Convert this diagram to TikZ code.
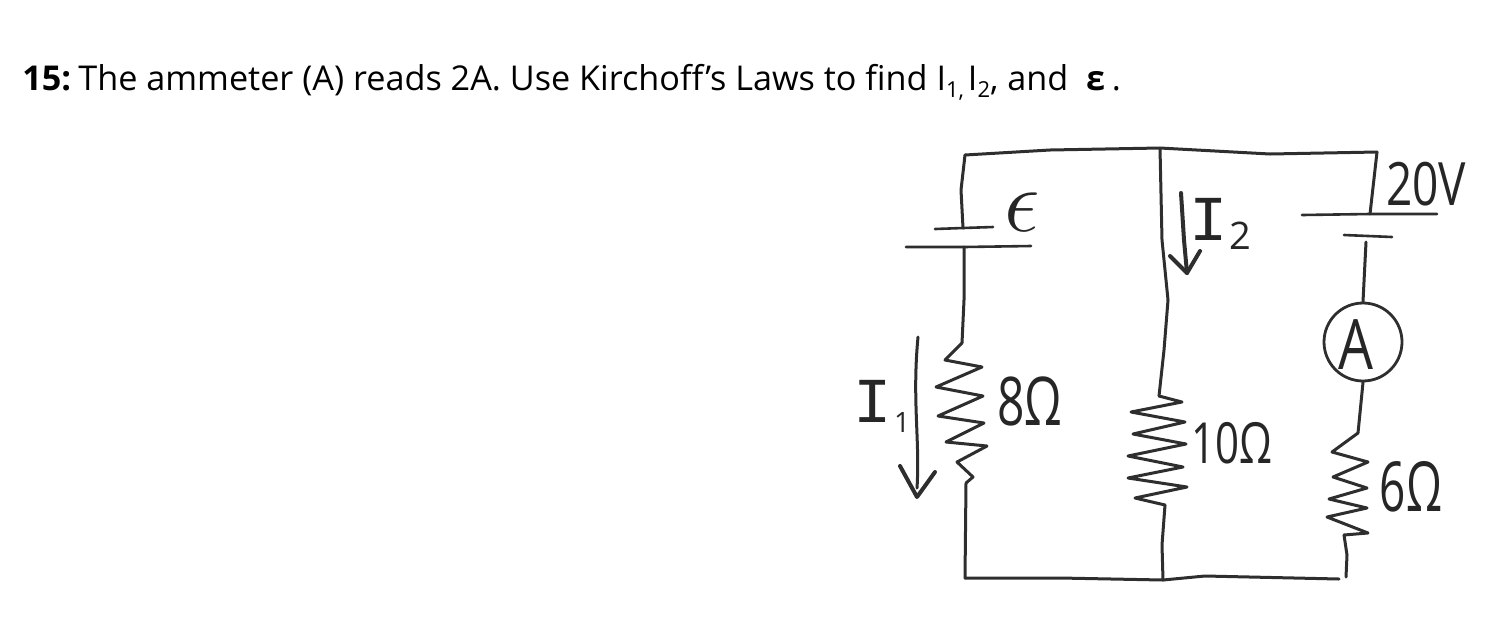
\documentclass[tikz,border=0pt]{standalone}
\usepackage{graphicx}
\usepackage{fontspec}
\setmainfont{Open Sans}
\newfontfamily\handfont{Liberation Mono}
\begin{document}
\begin{tikzpicture}[x=0.5pt,y=-0.5pt,
  wire/.style={draw=black!82,line width=1.5pt,line join=round,line cap=round},
  thinwire/.style={wire,line width=1.3pt},
  heavywire/.style={wire,line width=2pt},
  hand/.style={inner sep=0pt,outer sep=0pt,text=black!85,anchor=center},
  meter/.style={circle,draw=black!82,line width=1.4pt,minimum size=39pt,inner sep=0pt}]
\useasboundingbox (0,0) rectangle (1499,628);
% junctions and ends
\coordinate (tl) at (965,155);
\coordinate (tm) at (1160,148);
\coordinate (tr) at (1377,152);
\coordinate (bl) at (965,578);
\coordinate (bm) at (1163,580);
\coordinate (br) at (1339,579);
% batteries
\coordinate (es1) at (935,229);
\coordinate (es2) at (993,227);
\coordinate (eb1) at (906,247);
\coordinate (eb2) at (1031,246);
\coordinate (et) at (963,228);
\coordinate (eu) at (964,247);
\coordinate (vb1) at (1302,215);
\coordinate (vb2) at (1437,214);
\coordinate (vs1) at (1344,235);
\coordinate (vs2) at (1392,237);
\coordinate (vt) at (1370,214);
\coordinate (vu) at (1366,242);
% arrows
\coordinate (a1s) at (918,337);
\coordinate (a1t) at (917,497);
\coordinate (a1l) at (900,466);
\coordinate (a1r) at (935,472);
\coordinate (a2s) at (1181,193);
\coordinate (a2t) at (1187,273);
\coordinate (a2l) at (1170,256);
\coordinate (a2r) at (1200,251);
% ammeter
\node[meter] (am) at (1363,342) {};
\node[hand,font=\fontsize{24}{24}\selectfont] (amA) at (1356,345) {\scalebox{1.15}[1.45]{A}};
% frame
\draw[wire] (tl) -- (1050,150) -- (tm) -- (1270,154) -- (tr);
\draw[wire] (bl) -- (1060,578) -- (bm) -- (1205,576) -- (br);
% left branch
\draw[wire] (tl) -- (961,190) -- (et);
\draw[thinwire] (es1) -- (et) -- (es2);
\draw[thinwire] (eb1) -- (eu) -- (eb2);
\coordinate (r1a) at (962,343);
\coordinate (r1b) at (966,483);
\draw[wire] (eu) -- (964,300) -- (r1a);
\draw[wire] (r1a) -- (945,360) -- (982,367) -- (936,387) -- (983,396) -- (938,416) -- (984,423) -- (946,442) -- (987,446) -- (957,462) -- (973,477) -- (r1b);
\draw[wire] (r1b) -- (bl);
% middle branch
\coordinate (r2a) at (1159,396);
\coordinate (r2b) at (1165,505);
\draw[wire] (tm) -- (1162,240) -- (1168,300) -- (1164,350) -- (r2a);
\draw[wire] (r2a) -- (1182,402) -- (1131,412) -- (1185,422) -- (1133,434) -- (1186,444) -- (1128,456) -- (1183,467) -- (1128,478) -- (1187,487) -- (1135,498) -- (r2b);
\draw[wire] (r2b) -- (1162,545) -- (bm);
% right branch
\draw[wire] (tr) -- (vt);
\draw[thinwire] (vb1) -- (vt) -- (vb2);
\draw[thinwire] (vs1) -- (vs2);
\draw[wire] (vu) -- (am.north);
\coordinate (r3a) at (1358,433);
\coordinate (r3b) at (1344,535);
\draw[wire] (am.south) -- (r3a);
\draw[wire] (r3a) -- (1332,452) -- (1368,462) -- (1333,477) -- (1367,488) -- (1329,499) -- (1367,508) -- (1327,517) -- (1368,533) -- (r3b);
\draw[wire] (r3b) -- (1347,555) -- (1346,577);
% current arrows
\draw[wire] (a1s) .. controls (912,400) and (920,440) .. (917,488);
\draw[heavywire] (a1l) -- (a1t) -- (a1r);
\draw[heavywire] (a2s) -- (1184,240) -- (a2t);
\draw[heavywire] (a2l) -- (a2t) -- (a2r);
% handwritten labels
\node[hand,font=\handfont\fontsize{32}{32}\selectfont] (ii1) at (873,401) {I};
\node[hand,font=\fontsize{14}{14}\selectfont] (ii1s) at (902,422) {1};
\node[hand,font=\handfont\fontsize{32}{32}\selectfont] (ii2) at (1209,219) {I};
\node[hand,font=\fontsize{19}{19}\selectfont] (ii2s) at (1240,236) {2};
\node[hand,font=\fontsize{24}{24}\selectfont] (emf) at (1022,212) {\scalebox{1.8}{$\epsilon$}};
\node[hand,font=\fontsize{24}{24}\selectfont] (r8) at (1030,401) {\scalebox{1}[1.4]{8Ω}};
\node[hand,font=\fontsize{21}{21}\selectfont] (r10) at (1232,443) {\scalebox{1}[1.35]{10Ω}};
\node[hand,font=\fontsize{23}{23}\selectfont] (r6) at (1411,487) {\scalebox{1}[1.5]{6Ω}};
\node[hand,font=\fontsize{23}{23}\selectfont] (v20) at (1426,184) {\scalebox{1}[1.3]{20V}};
% heading
\node[anchor=base west,inner sep=0pt,text=black,font=\fontsize{17.1}{17.1}\selectfont] (head) at (22,90)
 {\textbf{15:}\hspace{-2.3pt} The ammeter (A) reads 2A. Use Kirchoff's Laws to find I\raisebox{-3.5pt}{\fontsize{11}{11}\selectfont 1,}\hspace{-2.5pt} I\raisebox{-3.5pt}{\fontsize{11}{11}\selectfont 2},\ and \ \textbf{ε}\hspace{-1pt} .};
\end{tikzpicture}
\end{document}
